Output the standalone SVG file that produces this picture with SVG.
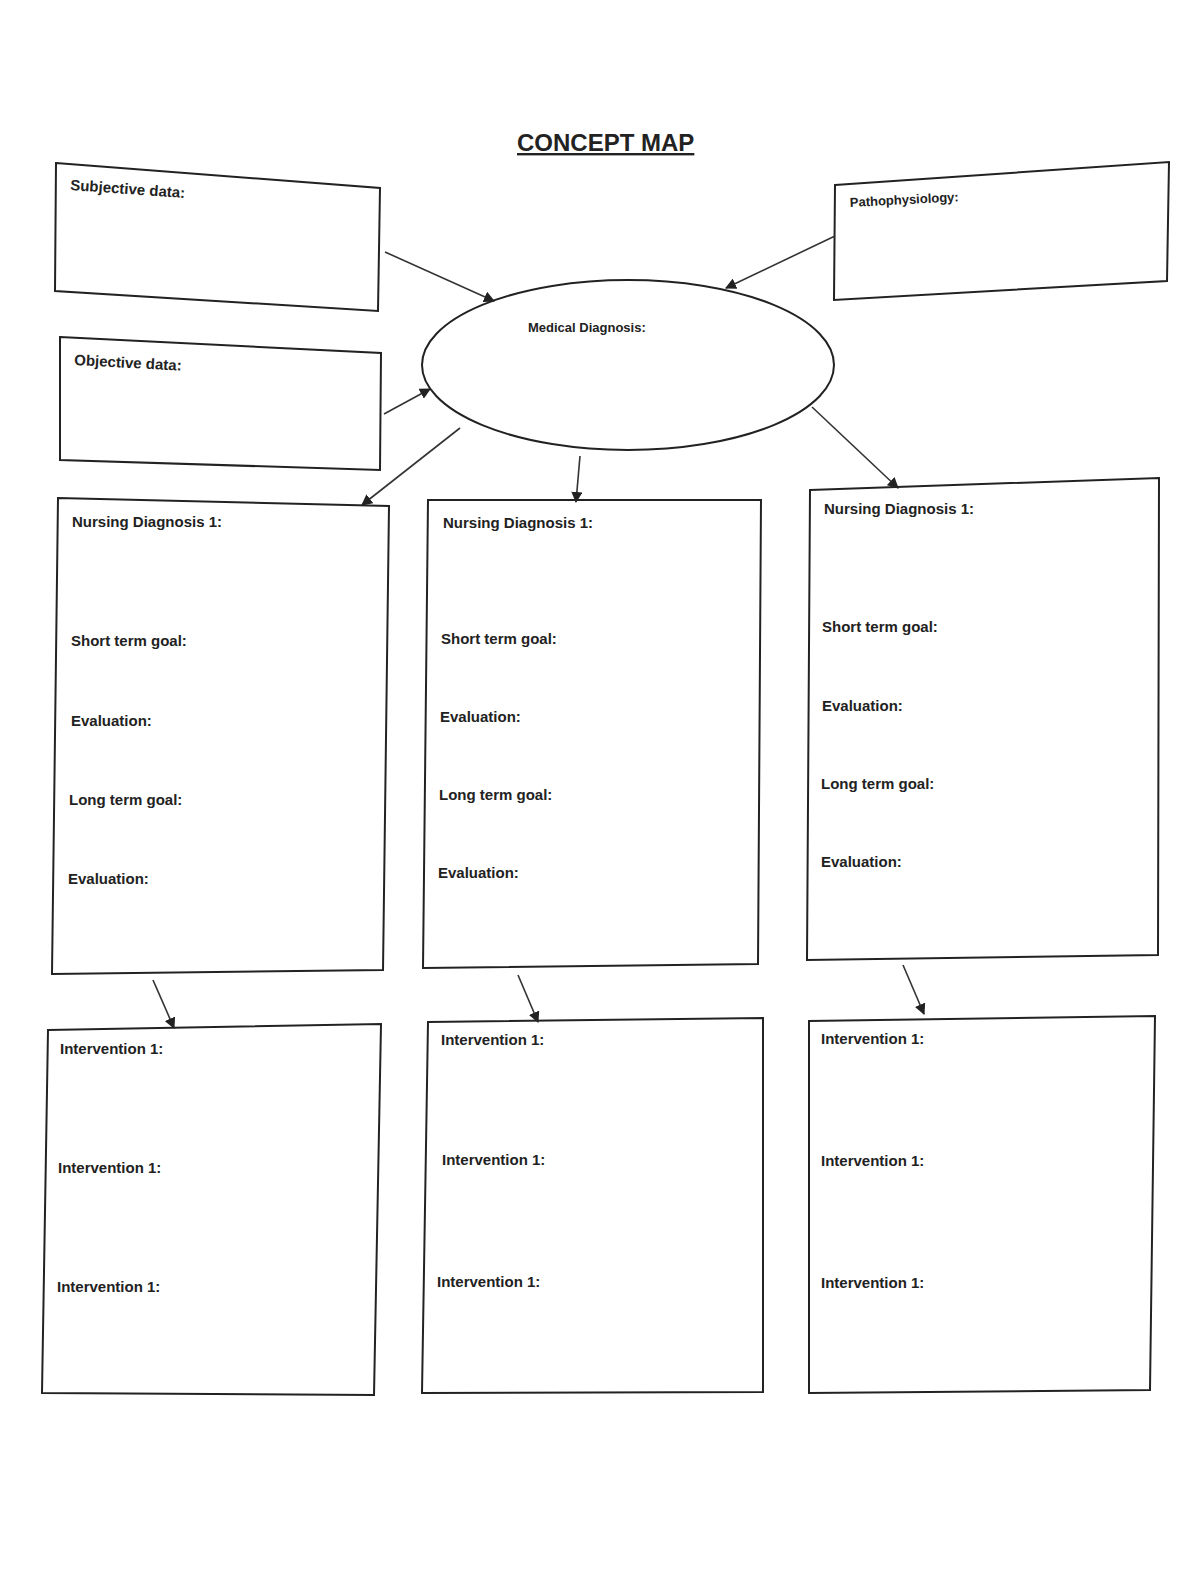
<svg xmlns="http://www.w3.org/2000/svg" width="1200" height="1593" viewBox="0 0 1200 1593">
<style>
.b{fill:none;stroke:#222;stroke-width:2}
.t{font-family:"Liberation Sans",Arial,sans-serif;font-weight:bold;font-size:15px;fill:#222}
.a{stroke:#333;stroke-width:1.6;fill:none;marker-end:url(#m)}
</style>
<defs><marker id="m" viewBox="0 0 10 10" refX="9" refY="5" markerWidth="7" markerHeight="7" orient="auto"><path d="M0,0L10,5L0,10z" fill="#222"/></marker></defs>
<rect width="1200" height="1593" fill="#fff"/>
<text x="517" y="151" font-family="Liberation Sans,Arial,sans-serif" font-weight="bold" font-size="24" fill="#222" text-decoration="underline">CONCEPT MAP</text>
<g id="subjective"><polygon class="b" points="56,163 380,188 378,311 55,291"/><text class="t" x="70" y="190" transform="rotate(4 70 190)">Subjective data:</text></g>
<g id="patho"><polygon class="b" points="835,185 1169,162 1167,281 834,300"/><text class="t" x="850" y="207" font-size="13" transform="rotate(-3 850 207)" style="font-size:13px">Pathophysiology:</text></g>
<g id="objective"><polygon class="b" points="60,337 381,353 380,470 60,460"/><text class="t" x="74" y="365" transform="rotate(3 74 365)">Objective data:</text></g>
<g id="medical"><ellipse class="b" cx="628" cy="365" rx="206" ry="85"/><text class="t" x="528" y="332" style="font-size:13px">Medical Diagnosis:</text></g>
<g id="nd1"><polygon class="b" points="58,498 389,506 383,970 52,974"/>
<text class="t" x="72" y="527">Nursing Diagnosis 1:</text><text class="t" x="71" y="646">Short term goal:</text><text class="t" x="71" y="726">Evaluation:</text><text class="t" x="69" y="805">Long term goal:</text><text class="t" x="68" y="884">Evaluation:</text></g>
<g id="nd2"><polygon class="b" points="428,500 761,500 758,964 423,968"/>
<text class="t" x="443" y="528">Nursing Diagnosis 1:</text><text class="t" x="441" y="644">Short term goal:</text><text class="t" x="440" y="722">Evaluation:</text><text class="t" x="439" y="800">Long term goal:</text><text class="t" x="438" y="878">Evaluation:</text></g>
<g id="nd3"><polygon class="b" points="810,490 1159,478 1158,955 807,960"/>
<text class="t" x="824" y="514">Nursing Diagnosis 1:</text><text class="t" x="822" y="632">Short term goal:</text><text class="t" x="822" y="711">Evaluation:</text><text class="t" x="821" y="789">Long term goal:</text><text class="t" x="821" y="867">Evaluation:</text></g>
<g id="int1"><polygon class="b" points="48,1030 381,1024 374,1395 42,1393"/>
<text class="t" x="60" y="1054">Intervention 1:</text><text class="t" x="58" y="1173">Intervention 1:</text><text class="t" x="57" y="1292">Intervention 1:</text></g>
<g id="int2"><polygon class="b" points="428,1022 763,1018 763,1392 422,1393"/>
<text class="t" x="441" y="1045">Intervention 1:</text><text class="t" x="442" y="1165">Intervention 1:</text><text class="t" x="437" y="1287">Intervention 1:</text></g>
<g id="int3"><polygon class="b" points="809,1021 1155,1016 1150,1390 809,1393"/>
<text class="t" x="821" y="1044">Intervention 1:</text><text class="t" x="821" y="1166">Intervention 1:</text><text class="t" x="821" y="1288">Intervention 1:</text></g>
<g id="connectors">
<line class="a" x1="385" y1="252" x2="494" y2="301"/>
<line class="a" x1="835" y1="236" x2="726" y2="288"/>
<line class="a" x1="384" y1="414" x2="430" y2="389"/>
<line class="a" x1="460" y1="428" x2="362" y2="505"/>
<line class="a" x1="580" y1="456" x2="576" y2="502"/>
<line class="a" x1="812" y1="407" x2="898" y2="488"/>
<line class="a" x1="153" y1="980" x2="174" y2="1028"/>
<line class="a" x1="518" y1="975" x2="538" y2="1022"/>
<line class="a" x1="903" y1="965" x2="924" y2="1014"/>
</g>
</svg>
